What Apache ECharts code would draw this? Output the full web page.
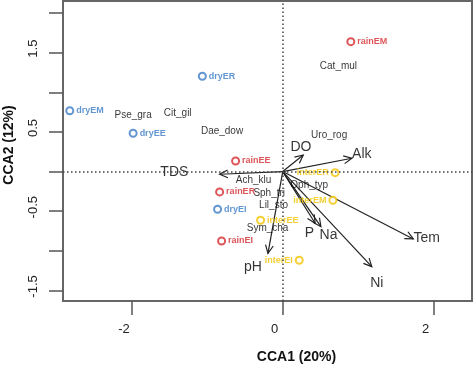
<!DOCTYPE html>
<html>
<head>
<meta charset="utf-8">
<script src="https://cdn.jsdelivr.net/npm/echarts@6/dist/echarts.min.js"></script>
<style>html,body{margin:0;padding:0;background:#fff}#c{width:474px;height:365px}</style>
</head>
<body>
<div id="c"></div>
<script>
// Sites
const siteNames = ['dryER','dryEM','dryEE','dryEI','rainEM','rainEE','rainER','rainEI','interEE','interEI','interER','interEM'];
const siteX = [-1.066,-2.824,-1.984,-0.864, 0.903,-0.625,-0.837,-0.811, -0.294,0.219,0.695,0.665];
const siteY = [1.202,0.768,0.483,-0.476, 1.639,0.134,-0.257,-0.876, -0.614,-1.119,-0.014,-0.362];
const siteGroup = ['dry','dry','dry','dry','rain','rain','rain','rain','inter','inter','inter','inter'];
const siteLabelSide = ['right','right','right','right','right','right','right','right','right','left','left','left'];

// Species
const speciesNames = ['Cat_mul','Pse_gra','Cit_gil','Dae_dow','Uro_rog','Ach_klu','Sph_tri','Lil_sto','Sym_cha','Oph_typ'];
const speciesX = [0.739,-1.984,-1.393,-0.805,0.616,-0.387,-0.179,-0.122,-0.201,0.351];
const speciesY = [1.332,0.714,0.736,0.503,0.462,-0.106,-0.274,-0.430,-0.712,-0.169];

// Environmental vectors
const envNames = ['DO','Alk','TDS','pH','P','Na','Tem','Ni'];
const envX = [0.272,0.917,-0.837,-0.196,0.430,0.506,1.732,1.181];
const envY = [0.209,0.168,-0.034,-1.031,-0.652,-0.695,-0.850,-1.200];
const envLabelX = [0.241,1.049,-1.437,-0.395,0.355,0.607,1.910,1.248];
const envLabelY = [0.314,0.222,-0.009,-1.200,-0.778,-0.800,-0.842,-1.402];

// Axis ticks
const xTicks = [-2,0,2];
const xTickLabels = [-2,0,2];
const yTicks = [-1.5,-1,-0.5,0,0.5,1,1.5,2];
const yTickLabels = [-1.5,-0.5,0.5,1.5];
const xTitle = 'CCA1 (20%)';
const yTitle = 'CCA2 (12%)';

const groupColor = {dry:'#3a7cc6', rain:'#d42a2e', inter:'#f2c300'};
const FONT = 'Liberation Sans, Arial, sans-serif';

const siteData = siteNames.map((n,i)=>({
  value:[siteX[i],siteY[i]], name:n,
  itemStyle:{color:groupColor[siteGroup[i]], borderColor:groupColor[siteGroup[i]]},
  label:{show:true, formatter:n, position:siteLabelSide[i], distance:2,
    color:groupColor[siteGroup[i]], fontWeight:'bold', fontSize:9, fontFamily:FONT}
}));

const speciesData = speciesNames.map((n,i)=>({value:[speciesX[i],speciesY[i]], name:n}));
const envLabelData = envNames.map((n,i)=>({value:[envLabelX[i],envLabelY[i]], name:n}));
const envData = envNames.map((n,i)=>[envX[i],envY[i]]);

const chart = echarts.init(document.getElementById('c'));
chart.setOption({
  animation:false,
  grid:{left:63, right:2, top:1, bottom:64, outerBoundsMode:'none', containLabel:false,
    show:true, borderColor:'#666', borderWidth:2, backgroundColor:'transparent'},
  xAxis:{type:'value', min:-2.914, max:2.51,
    axisLine:{show:false, onZero:false}, splitLine:{show:false},
    axisTick:{show:true, length:14, lineStyle:{color:'#555', width:1.5}, customValues:xTicks},
    axisLabel:{customValues:xTickLabels, margin:22, fontSize:13, color:'#222', fontFamily:FONT, padding:[0,16,0,0]},
    name:xTitle, nameLocation:'middle', nameGap:49,
    nameTextStyle:{fontSize:14, fontWeight:'bold', color:'#111', fontFamily:FONT, padding:[0,0,0,58]}
  },
  yAxis:{type:'value', min:-1.633, max:2.152,
    axisLine:{show:false, onZero:false}, splitLine:{show:false},
    axisTick:{show:true, length:14, lineStyle:{color:'#555', width:1.5}, customValues:yTicks},
    axisLabel:{customValues:yTickLabels, rotate:90, margin:23, fontSize:13, color:'#222', fontFamily:FONT, padding:[0,0,0,8]},
    name:yTitle, nameLocation:'middle', nameGap:47, nameRotate:90,
    nameTextStyle:{fontSize:14, fontWeight:'bold', color:'#111', fontFamily:FONT, padding:[0,0,0,12]}
  },
  series:[
    {type:'scatter', data:[], silent:true,
      markLine:{silent:true, symbol:'none', label:{show:false},
        lineStyle:{type:[1.5,2.5], color:'#444', width:1.5},
        data:[{xAxis:0},{yAxis:0}]}},
    {type:'custom', data:envData, silent:true,
      renderItem:function(params, api){
        const p1 = api.coord([api.value(0), api.value(1)]);
        const p0 = api.coord([0,0]);
        const ang = Math.atan2(p1[1]-p0[1], p1[0]-p0[0]);
        const L = 9, a = Math.PI/7;
        const h1 = [p1[0]-L*Math.cos(ang-a), p1[1]-L*Math.sin(ang-a)];
        const h2 = [p1[0]-L*Math.cos(ang+a), p1[1]-L*Math.sin(ang+a)];
        return {type:'group', children:[
          {type:'line', shape:{x1:p0[0],y1:p0[1],x2:p1[0],y2:p1[1]}, style:{stroke:'#222', lineWidth:1.2}},
          {type:'polyline', shape:{points:[h1,p1,h2]}, style:{stroke:'#222', lineWidth:1.2, fill:null}}
        ]};
      }},
    {type:'scatter', data:siteData, symbol:'emptyCircle', symbolSize:7,
      itemStyle:{borderWidth:1}},
    {type:'scatter', data:speciesData, symbolSize:0,
      label:{show:true, position:'inside', formatter:'{b}', fontSize:10, color:'#000', fontFamily:FONT}},
    {type:'scatter', data:envLabelData, symbolSize:0,
      label:{show:true, position:'inside', formatter:'{b}', fontSize:14, color:'#000', fontFamily:FONT}}
  ]
});
</script>
</body>
</html>
